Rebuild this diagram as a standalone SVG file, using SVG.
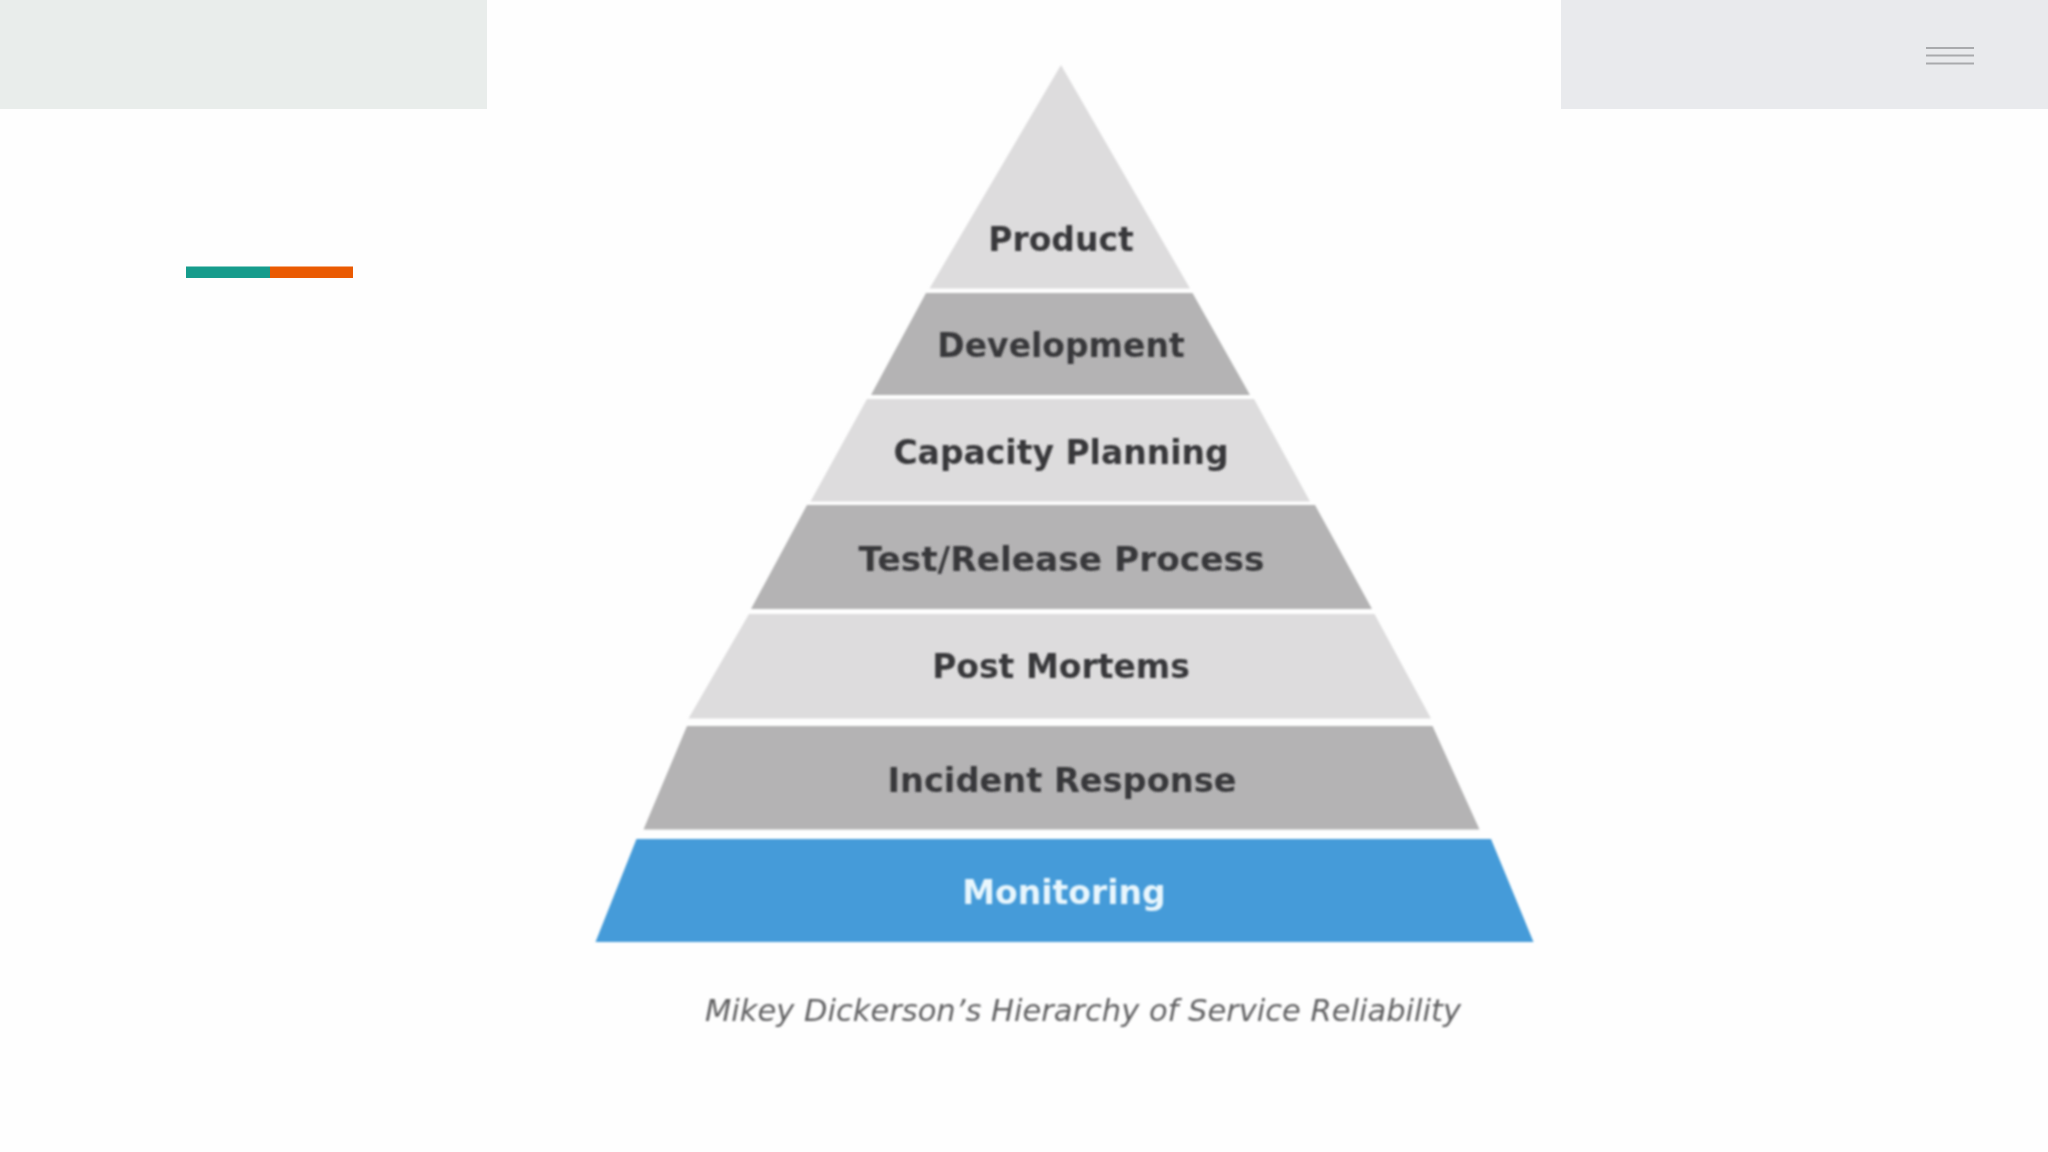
<svg xmlns="http://www.w3.org/2000/svg" width="2048" height="1152" viewBox="0 0 2048 1152">
<defs>
<filter id="soft" x="-5%" y="-20%" width="110%" height="140%"><feGaussianBlur stdDeviation="0.9"/></filter>
</defs>
<style>
.light{fill:#dddcdd}
.dark{fill:#b4b3b4}
.blue{fill:#449bd9}
.tier{filter:url(#soft)}
.label{font-family:"DejaVu Sans",sans-serif;font-weight:700;font-size:33px;fill:#38383a;text-anchor:middle;filter:url(#soft)}
.caption{font-family:"DejaVu Sans",sans-serif;font-style:italic;font-size:31px;fill:#606062;filter:url(#soft)}
.bar{stroke:#a9aaad;stroke-width:2;fill:none}
</style>
<rect id="background" width="2048" height="1152" fill="#fefefe"/>
<rect id="panel-left" x="0" y="0" width="487" height="109" fill="#e9edeb"/>
<rect id="panel-right" x="1561" y="0" width="487" height="109" fill="#e9eaed"/>
<g id="menu-icon">
<line class="bar" x1="1926" y1="48" x2="1974" y2="48"/>
<line class="bar" x1="1926" y1="55.5" x2="1974" y2="55.5"/>
<line class="bar" x1="1926" y1="63.5" x2="1974" y2="63.5"/>
</g>
<g id="accent">
<rect x="186" y="266.5" width="84" height="11.5" fill="#169c8c"/>
<rect x="270" y="266.5" width="83" height="11.5" fill="#ea5a02"/>
</g>
<g id="connectors"></g>
<g id="tier-product">
<polygon class="light tier" points="1061,65 1190,288.5 929.5,288.5"/>
<text class="label" x="1061" y="250.5">Product</text>
</g>
<g id="tier-development">
<polygon class="dark tier" points="926,293 1192.5,293 1250,395 871,395"/>
<text class="label" x="1061" y="356.5">Development</text>
</g>
<g id="tier-capacity-planning">
<polygon class="light tier" points="867,399 1254,399 1310,501.5 810.5,501.5"/>
<text class="label" x="1061" y="463.5">Capacity Planning</text>
</g>
<g id="tier-test-release">
<polygon class="dark tier" points="807,505 1315,505 1372,609 751,609"/>
<text class="label" x="1061.5" y="571" textLength="406" lengthAdjust="spacingAndGlyphs">Test/Release Process</text>
</g>
<g id="tier-post-mortems">
<polygon class="light tier" points="749,614 1374.5,614 1431,718.5 688.5,718.5"/>
<text class="label" x="1061" y="678">Post Mortems</text>
</g>
<g id="tier-incident-response">
<polygon class="dark tier" points="687,726 1432.5,726 1479.5,829.5 643.5,829.5"/>
<text class="label" x="1062" y="791.5" textLength="349" lengthAdjust="spacingAndGlyphs">Incident Response</text>
</g>
<g id="tier-monitoring">
<polygon class="blue tier" points="636.5,839 1491,839 1533.5,942 595.5,942"/>
<text class="label" x="1064" y="904" style="fill:#e8f6fd">Monitoring</text>
</g>
<text id="caption" class="caption" x="705" y="1020.5" textLength="756" lengthAdjust="spacingAndGlyphs">Mikey Dickerson’s Hierarchy of Service Reliability</text>
</svg>
